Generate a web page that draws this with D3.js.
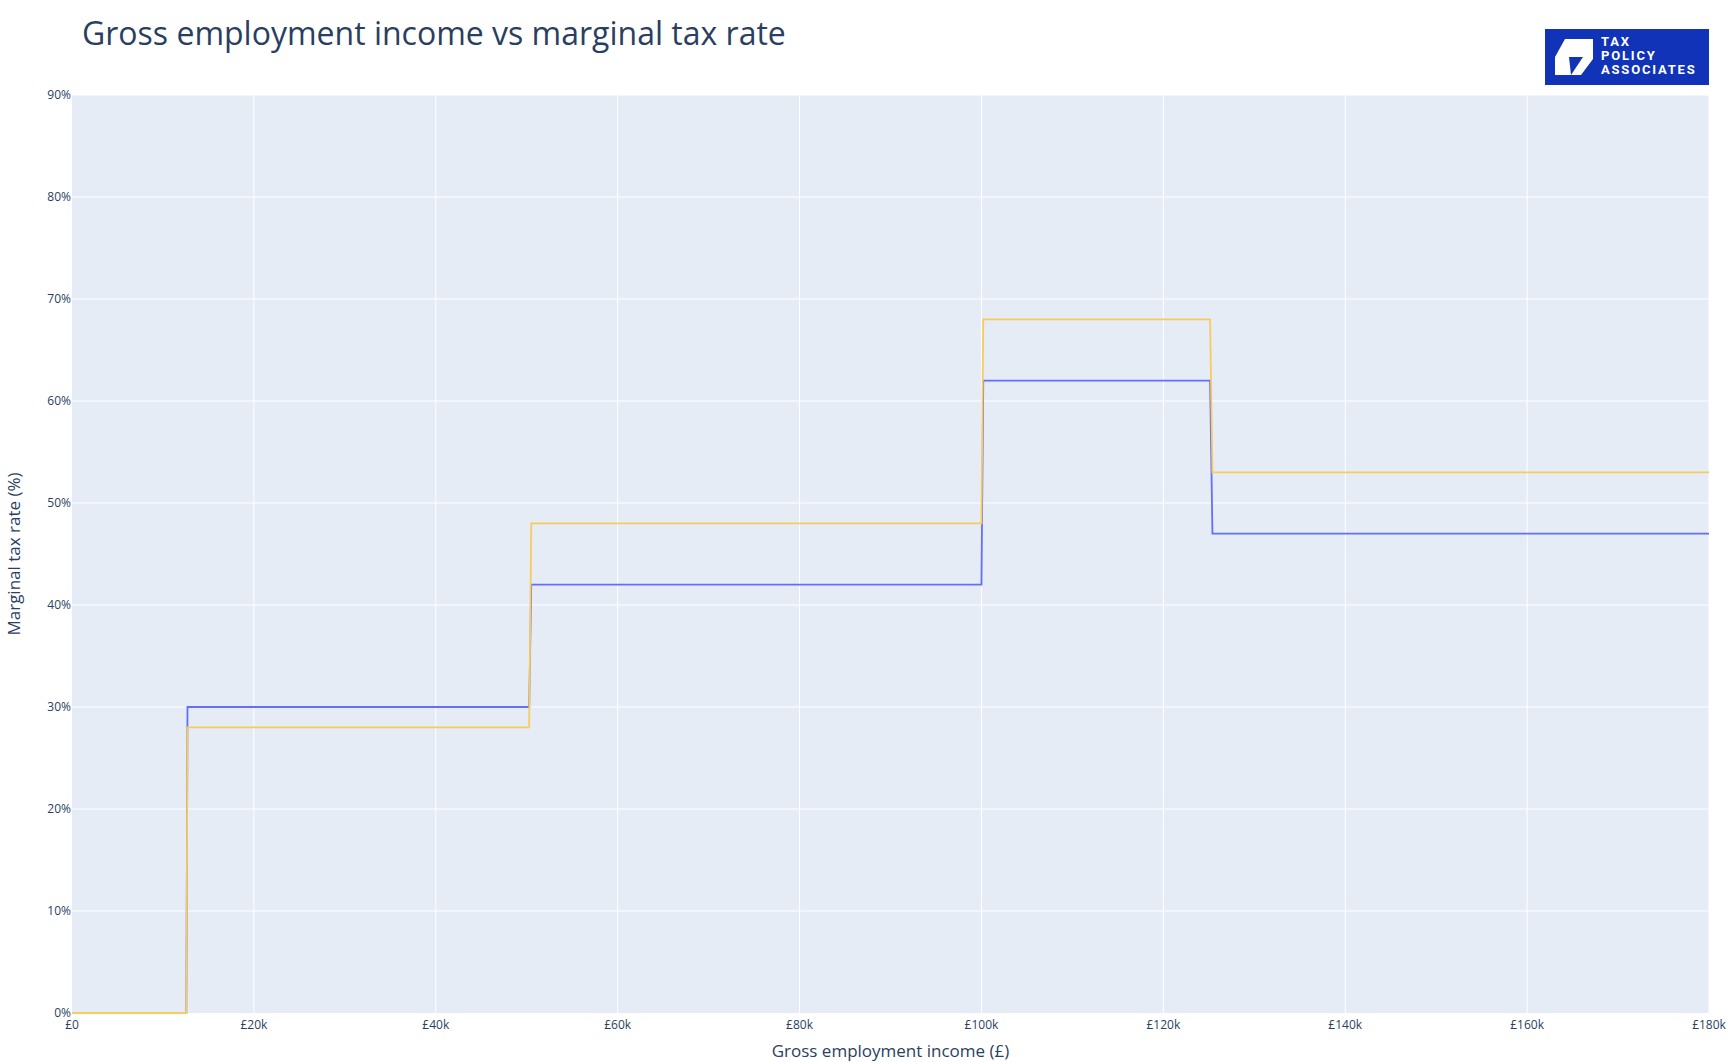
<!DOCTYPE html>
<html><head><meta charset="utf-8">
<script src="https://cdn.jsdelivr.net/npm/d3@7"></script>
<style>body{margin:0;background:#fff;font-family:"Open Sans",sans-serif}</style>
</head><body><div id="chart"></div>
<script>
const incomes = [0, 12570, 12700, 50270, 50500, 100000, 100200, 125140, 125400, 180000]
const blueRates = [0, 0, 30, 30, 42, 42, 62, 62, 47, 47]
const yellowRates = [0, 0, 28, 28, 48, 48, 68, 68, 53, 53]
const xTicks = [0, 20000, 40000, 60000, 80000, 100000, 120000, 140000, 160000, 180000]
const yTicks = [0, 10, 20, 30, 40, 50, 60, 70, 80, 90]

const W = 1732, H = 1062
const m = {left: 72, right: 23, top: 95, bottom: 49}
const svg = d3.select('#chart').append('svg').attr('width', W).attr('height', H)

const x = d3.scaleLinear().domain([0, 180000]).range([m.left, W - m.right])
const y = d3.scaleLinear().domain([0, 90]).range([H - m.bottom, m.top])

svg.append('rect').attr('x', m.left).attr('y', m.top)
  .attr('width', W - m.left - m.right).attr('height', H - m.top - m.bottom).attr('fill', '#e5ecf6')

svg.append('g').selectAll('line').data(xTicks.slice(1)).enter().append('line')
  .attr('x1', d => x(d)).attr('x2', d => x(d)).attr('y1', m.top).attr('y2', H - m.bottom)
  .attr('stroke', '#fff').attr('stroke-width', 1)
svg.append('g').selectAll('line').data(yTicks.slice(1)).enter().append('line')
  .attr('y1', d => y(d)).attr('y2', d => y(d)).attr('x1', m.left).attr('x2', W - m.right)
  .attr('stroke', '#fff').attr('stroke-width', 1)

const fmtX = d => d === 0 ? '£0' : '£' + d / 1000 + 'k'
svg.append('g').selectAll('text').data(xTicks).enter().append('text')
  .attr('x', d => x(d)).attr('y', H - m.bottom + 16).attr('text-anchor', 'middle')
  .attr('font-size', 12).attr('fill', '#2a3f5f').text(fmtX)
svg.append('g').selectAll('text').data(yTicks).enter().append('text')
  .attr('x', m.left - 1).attr('y', d => y(d) + 4).attr('text-anchor', 'end')
  .attr('font-size', 12).attr('fill', '#2a3f5f').text(d => d + '%')

const line = (rates) => d3.line().x((d, i) => x(incomes[i])).y(d => y(d))(rates)
svg.append('path').attr('d', line(blueRates)).attr('fill', 'none').attr('stroke', '#636efa').attr('stroke-width', 1.8)
svg.append('path').attr('d', line(yellowRates)).attr('fill', 'none').attr('stroke', '#f8cb5c').attr('stroke-width', 1.8)

svg.append('text').attr('x', 82).attr('y', 45).attr('font-size', 32).attr('fill', '#2a3f5f')
  .text('Gross employment income vs marginal tax rate')
svg.append('text').attr('x', (m.left + W - m.right) / 2).attr('y', 1057).attr('text-anchor', 'middle')
  .attr('font-size', 17).attr('fill', '#2a3f5f').text('Gross employment income (£)')
svg.append('text').attr('transform', `translate(20,${(m.top + H - m.bottom) / 2}) rotate(-90)`)
  .attr('text-anchor', 'middle').attr('font-size', 17).attr('fill', '#2a3f5f').text('Marginal tax rate (%)')

// logo
const logo = svg.append('g').attr('transform', 'translate(1545,29)')
logo.append('rect').attr('width', 164).attr('height', 56).attr('fill', '#1133b8')
logo.append('path').attr('d', 'M20,10 L48,10 L48,30 L36,46 L10,46 L10,28 Z').attr('fill', '#fff')
logo.append('path').attr('d', 'M24,28 L38,28 L26,46 Z').attr('fill', '#1133b8')
;['TAX', 'POLICY', 'ASSOCIATES'].forEach((t, i) => {
  logo.append('text').attr('x', 56).attr('y', 17 + i * 14).attr('font-size', 13).attr('font-weight', 700)
    .attr('letter-spacing', 1.8).attr('fill', '#fff').attr('font-family', 'Roboto, sans-serif').text(t)
})
</script></body></html>
